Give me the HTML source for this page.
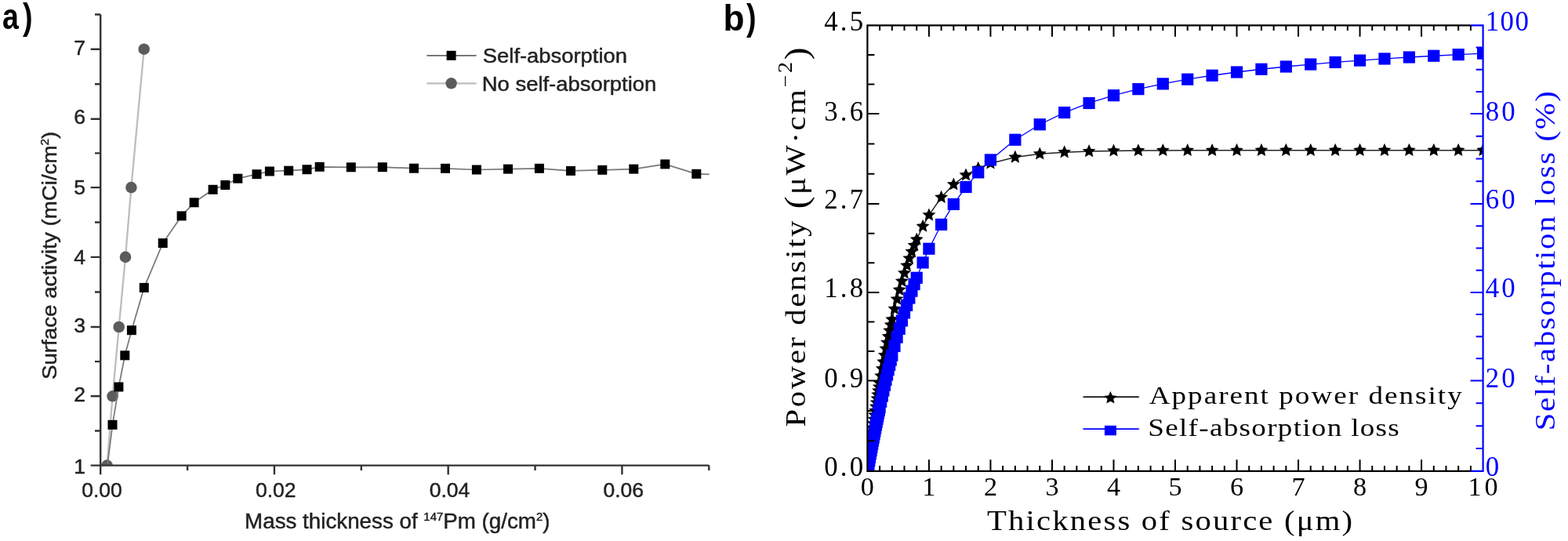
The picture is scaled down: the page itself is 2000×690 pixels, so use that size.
<!DOCTYPE html>
<html><head><meta charset="utf-8"><title>Self-absorption figure</title>
<style>html,body{margin:0;padding:0;background:#fff;width:2000px;height:690px;overflow:hidden}svg{display:block}</style>
</head><body>
<svg width="2000" height="690" viewBox="0 0 2000 690">
<g id="chartA">
<style>.ta{stroke:#222;stroke-width:0.45px}</style>
<clipPath id="clipA"><rect x="128.2" y="0" width="776.39" height="593.6"/></clipPath>
<g clip-path="url(#clipA)">
<polyline points="136.5,593.6 143.6,505.3 151.7,417 160,327.9 167.4,239.1 183.7,62.7" fill="none" stroke="#bdbdbd" stroke-width="2.3"/>
<g fill="#5c5c5c">
<circle cx="136.5" cy="593.6" r="7.3"/>
<circle cx="143.6" cy="505.3" r="7.3"/>
<circle cx="151.7" cy="417" r="7.3"/>
<circle cx="160" cy="327.9" r="7.3"/>
<circle cx="167.4" cy="239.1" r="7.3"/>
<circle cx="183.7" cy="62.7" r="7.3"/>
</g>
<polyline points="137,593.6 143.5,541.8 151.4,493.5 159.3,453.3 167.9,421.2 183.8,366.9 207.7,310.1 231.6,275.4 247.6,258.3 271.6,241.8 287.3,236 303.3,227.7 327.5,222.2 343.9,218.5 368.2,217.7 391.5,216.2 407.7,212.8 447.8,213.3 487.8,213.2 528,214.7 568,214.8 607.9,216.5 648,215.6 687.9,214.8 728,217.9 768.3,216.8 808.3,215.6 848.3,209.4 888.3,221.8 910,222.6" fill="none" stroke="#777" stroke-width="1.7"/>
<g fill="#000">
<rect x="137.5" y="535.8" width="12" height="12"/>
<rect x="145.4" y="487.5" width="12" height="12"/>
<rect x="153.3" y="447.3" width="12" height="12"/>
<rect x="161.9" y="415.2" width="12" height="12"/>
<rect x="177.8" y="360.9" width="12" height="12"/>
<rect x="201.7" y="304.1" width="12" height="12"/>
<rect x="225.6" y="269.4" width="12" height="12"/>
<rect x="241.6" y="252.3" width="12" height="12"/>
<rect x="265.6" y="235.8" width="12" height="12"/>
<rect x="281.3" y="230" width="12" height="12"/>
<rect x="297.3" y="221.7" width="12" height="12"/>
<rect x="321.5" y="216.2" width="12" height="12"/>
<rect x="337.9" y="212.5" width="12" height="12"/>
<rect x="362.2" y="211.7" width="12" height="12"/>
<rect x="385.5" y="210.2" width="12" height="12"/>
<rect x="401.7" y="206.8" width="12" height="12"/>
<rect x="441.8" y="207.3" width="12" height="12"/>
<rect x="481.8" y="207.2" width="12" height="12"/>
<rect x="522" y="208.7" width="12" height="12"/>
<rect x="562" y="208.8" width="12" height="12"/>
<rect x="601.9" y="210.5" width="12" height="12"/>
<rect x="642" y="209.6" width="12" height="12"/>
<rect x="681.9" y="208.8" width="12" height="12"/>
<rect x="722" y="211.9" width="12" height="12"/>
<rect x="762.3" y="210.8" width="12" height="12"/>
<rect x="802.3" y="209.6" width="12" height="12"/>
<rect x="842.3" y="203.4" width="12" height="12"/>
<rect x="882.3" y="215.8" width="12" height="12"/>
</g>
</g>
<path d="M128.2 18.45 V593.6 H904.29" fill="none" stroke="#333" stroke-width="2.4"/>
<path d="M115.7 593.6H128.2 M115.7 505.3H128.2 M115.7 417H128.2 M115.7 327.9H128.2 M115.7 239.1H128.2 M115.7 151.7H128.2 M115.7 62.7H128.2 M121 549.45H128.2 M121 461.15H128.2 M121 372.45H128.2 M121 283.5H128.2 M121 195.4H128.2 M121 107.2H128.2 M121 18.45H128.2 M128.2 593.6V605.2 M239.07 593.6V600 M349.94 593.6V605.2 M460.81 593.6V600 M571.68 593.6V605.2 M682.55 593.6V600 M793.42 593.6V605.2 M904.29 593.6V600" stroke="#333" stroke-width="2.4" fill="none"/>
<text class="ta" x="109" y="603.5" text-anchor="end" font-family="'Liberation Sans', Arial, sans-serif" font-size="26.5" fill="#222">1</text>
<text class="ta" x="109" y="512.1" text-anchor="end" font-family="'Liberation Sans', Arial, sans-serif" font-size="26.5" fill="#222">2</text>
<text class="ta" x="109" y="424.2" text-anchor="end" font-family="'Liberation Sans', Arial, sans-serif" font-size="26.5" fill="#222">3</text>
<text class="ta" x="109" y="336.5" text-anchor="end" font-family="'Liberation Sans', Arial, sans-serif" font-size="26.5" fill="#222">4</text>
<text class="ta" x="109" y="247.5" text-anchor="end" font-family="'Liberation Sans', Arial, sans-serif" font-size="26.5" fill="#222">5</text>
<text class="ta" x="109" y="157.9" text-anchor="end" font-family="'Liberation Sans', Arial, sans-serif" font-size="26.5" fill="#222">6</text>
<text class="ta" x="109" y="70.4" text-anchor="end" font-family="'Liberation Sans', Arial, sans-serif" font-size="26.5" fill="#222">7</text>
<text class="ta" x="130" y="634.2" text-anchor="middle" font-family="'Liberation Sans', Arial, sans-serif" font-size="26.5" fill="#222">0.00</text>
<text class="ta" x="351.74" y="634.2" text-anchor="middle" font-family="'Liberation Sans', Arial, sans-serif" font-size="26.5" fill="#222">0.02</text>
<text class="ta" x="573.48" y="634.2" text-anchor="middle" font-family="'Liberation Sans', Arial, sans-serif" font-size="26.5" fill="#222">0.04</text>
<text class="ta" x="795.22" y="634.2" text-anchor="middle" font-family="'Liberation Sans', Arial, sans-serif" font-size="26.5" fill="#222">0.06</text>
<text class="ta" transform="translate(72 484) rotate(-90)" font-family="'Liberation Sans', Arial, sans-serif" font-size="26.5" fill="#222" textLength="316.2" lengthAdjust="spacingAndGlyphs">Surface activity (mCi/cm<tspan font-size="14.5" dy="-10.5">2</tspan><tspan dy="10.5">)</tspan></text>
<text class="ta" x="312.1" y="673.9" font-family="'Liberation Sans', Arial, sans-serif" font-size="27" fill="#222" textLength="389.4" lengthAdjust="spacingAndGlyphs">Mass thickness of <tspan font-size="14.5" dy="-9.5">147</tspan><tspan dy="9.5">Pm (g/cm</tspan><tspan font-size="14.5" dy="-9.5">2</tspan><tspan dy="9.5">)</tspan></text>
<line x1="544.4" y1="70.8" x2="607.6" y2="70.8" stroke="#666" stroke-width="1.8"/>
<rect x="569.6" y="64.8" width="12" height="12" fill="#000"/>
<text class="ta" x="615.8" y="80.4" font-family="'Liberation Sans', Arial, sans-serif" font-size="25.5" fill="#222" textLength="184.2" lengthAdjust="spacingAndGlyphs">Self-absorption</text>
<line x1="544.4" y1="106.3" x2="607.6" y2="106.3" stroke="#bdbdbd" stroke-width="2.3"/>
<circle cx="575.6" cy="106.3" r="7.2" fill="#5c5c5c"/>
<text class="ta" x="614.8" y="115.6" font-family="'Liberation Sans', Arial, sans-serif" font-size="25.5" fill="#222" textLength="222.5" lengthAdjust="spacingAndGlyphs">No self-absorption</text>
<g font-family="'Liberation Sans', Arial, sans-serif" font-weight="bold" font-size="46" fill="#000"><text transform="translate(2.9 36.8) scale(0.816 1)">a</text><text transform="translate(29.1 36.6) scale(0.82 1)">)</text></g>
</g>
<g id="chartB">
<clipPath id="clipB"><rect x="1106.4" y="32.3" width="785.2" height="568.5"/></clipPath>
<g clip-path="url(#clipB)">
<polyline points="1106.4,600.8 1107.19,594.31 1107.97,587.92 1108.76,581.63 1109.54,575.44 1110.33,569.35 1111.11,563.36 1111.9,557.46 1112.68,551.65 1113.47,545.94 1114.25,540.32 1115.04,534.78 1115.82,529.34 1116.61,523.98 1117.39,518.71 1118.18,513.52 1118.96,508.41 1119.75,503.38 1120.53,498.44 1121.32,493.57 1122.1,488.78 1123.67,479.42 1125.24,470.36 1126.82,461.59 1128.39,453.09 1129.96,444.86 1131.53,436.88 1133.1,429.16 1134.67,421.69 1136.24,414.44 1137.81,407.43 1140.95,394.06 1144.09,381.52 1147.23,369.75 1150.37,358.71 1153.51,348.36 1156.65,338.65 1159.79,329.54 1162.93,321 1166.08,312.99 1169.22,305.47 1177.07,288.65 1184.92,274.32 1200.62,251.7 1216.33,235.28 1232.03,223.36 1247.74,214.7 1263.44,208.41 1294.85,200.52 1326.26,196.37 1357.66,194.18 1389.07,193.02 1420.48,192.41 1451.89,192.09 1483.3,191.92 1514.7,191.83 1546.11,191.79 1577.52,191.76 1608.93,191.75 1640.34,191.74 1671.74,191.74 1703.15,191.73 1734.56,191.73 1765.97,191.73 1797.38,191.73 1828.78,191.73 1860.19,191.73 1891.6,191.73" fill="none" stroke="#222" stroke-width="1.5"/>
<g fill="#000">
<polygon points="1106.4,591.9 1108.86,597.42 1114.86,598.05 1110.38,602.09 1111.63,608 1106.4,604.98 1101.17,608 1102.42,602.09 1097.94,598.05 1103.94,597.42"/>
<polygon points="1107.19,585.41 1109.64,590.92 1115.65,591.56 1111.16,595.6 1112.42,601.51 1107.19,598.49 1101.95,601.51 1103.21,595.6 1098.72,591.56 1104.73,590.92"/>
<polygon points="1107.97,579.02 1110.43,584.53 1116.43,585.17 1111.95,589.21 1113.2,595.12 1107.97,592.1 1102.74,595.12 1103.99,589.21 1099.51,585.17 1105.51,584.53"/>
<polygon points="1108.76,572.73 1111.21,578.24 1117.22,578.88 1112.73,582.92 1113.99,588.83 1108.76,585.81 1103.52,588.83 1104.78,582.92 1100.29,578.88 1106.3,578.24"/>
<polygon points="1109.54,566.54 1112,572.06 1118.01,572.69 1113.52,576.73 1114.77,582.64 1109.54,579.62 1104.31,582.64 1105.56,576.73 1101.08,572.69 1107.08,572.06"/>
<polygon points="1110.33,560.45 1112.78,565.97 1118.79,566.6 1114.3,570.64 1115.56,576.55 1110.33,573.53 1105.09,576.55 1106.35,570.64 1101.86,566.6 1107.87,565.97"/>
<polygon points="1111.11,554.46 1113.57,559.97 1119.58,560.61 1115.09,564.65 1116.34,570.56 1111.11,567.54 1105.88,570.56 1107.13,564.65 1102.65,560.61 1108.65,559.97"/>
<polygon points="1111.9,548.56 1114.36,554.07 1120.36,554.71 1115.87,558.75 1117.13,564.66 1111.9,561.64 1106.67,564.66 1107.92,558.75 1103.43,554.71 1109.44,554.07"/>
<polygon points="1112.68,542.75 1115.14,548.27 1121.15,548.9 1116.66,552.94 1117.91,558.85 1112.68,555.83 1107.45,558.85 1108.7,552.94 1104.22,548.9 1110.22,548.27"/>
<polygon points="1113.47,537.04 1115.93,542.55 1121.93,543.19 1117.45,547.23 1118.7,553.14 1113.47,550.12 1108.24,553.14 1109.49,547.23 1105,543.19 1111.01,542.55"/>
<polygon points="1114.25,531.42 1116.71,536.93 1122.72,537.57 1118.23,541.61 1119.48,547.52 1114.25,544.5 1109.02,547.52 1110.27,541.61 1105.79,537.57 1111.79,536.93"/>
<polygon points="1115.04,525.88 1117.5,531.4 1123.5,532.03 1119.02,536.08 1120.27,541.98 1115.04,538.97 1109.81,541.98 1111.06,536.08 1106.57,532.03 1112.58,531.4"/>
<polygon points="1115.82,520.44 1118.28,525.95 1124.29,526.59 1119.8,530.63 1121.05,536.54 1115.82,533.52 1110.59,536.54 1111.84,530.63 1107.36,526.59 1113.36,525.95"/>
<polygon points="1116.61,515.08 1119.07,520.6 1125.07,521.23 1120.59,525.27 1121.84,531.18 1116.61,528.16 1111.38,531.18 1112.63,525.27 1108.14,521.23 1114.15,520.6"/>
<polygon points="1117.39,509.81 1119.85,515.32 1125.86,515.96 1121.37,520 1122.62,525.91 1117.39,522.89 1112.16,525.91 1113.41,520 1108.93,515.96 1114.93,515.32"/>
<polygon points="1118.18,504.62 1120.64,510.13 1126.64,510.77 1122.16,514.81 1123.41,520.72 1118.18,517.7 1112.95,520.72 1114.2,514.81 1109.71,510.77 1115.72,510.13"/>
<polygon points="1118.96,499.51 1121.42,505.02 1127.43,505.66 1122.94,509.7 1124.19,515.61 1118.96,512.59 1113.73,515.61 1114.98,509.7 1110.5,505.66 1116.5,505.02"/>
<polygon points="1119.75,494.48 1122.21,500 1128.21,500.63 1123.73,504.67 1124.98,510.58 1119.75,507.57 1114.52,510.58 1115.77,504.67 1111.28,500.63 1117.29,500"/>
<polygon points="1120.53,489.54 1122.99,495.05 1129,495.69 1124.51,499.73 1125.76,505.64 1120.53,502.62 1115.3,505.64 1116.56,499.73 1112.07,495.69 1118.07,495.05"/>
<polygon points="1121.32,484.67 1123.78,490.18 1129.78,490.82 1125.3,494.86 1126.55,500.77 1121.32,497.75 1116.09,500.77 1117.34,494.86 1112.85,490.82 1118.86,490.18"/>
<polygon points="1122.1,479.88 1124.56,485.39 1130.57,486.03 1126.08,490.07 1127.34,495.98 1122.1,492.96 1116.87,495.98 1118.13,490.07 1113.64,486.03 1119.65,485.39"/>
<polygon points="1123.67,470.52 1126.13,476.04 1132.14,476.67 1127.65,480.71 1128.91,486.62 1123.67,483.6 1118.44,486.62 1119.7,480.71 1115.21,476.67 1121.22,476.04"/>
<polygon points="1125.24,461.46 1127.7,466.98 1133.71,467.61 1129.22,471.65 1130.48,477.56 1125.24,474.54 1120.01,477.56 1121.27,471.65 1116.78,467.61 1122.79,466.98"/>
<polygon points="1126.82,452.69 1129.27,458.2 1135.28,458.84 1130.79,462.88 1132.05,468.79 1126.82,465.77 1121.58,468.79 1122.84,462.88 1118.35,458.84 1124.36,458.2"/>
<polygon points="1128.39,444.19 1130.84,449.7 1136.85,450.34 1132.36,454.38 1133.62,460.29 1128.39,457.27 1123.15,460.29 1124.41,454.38 1119.92,450.34 1125.93,449.7"/>
<polygon points="1129.96,435.96 1132.41,441.47 1138.42,442.11 1133.93,446.15 1135.19,452.06 1129.96,449.04 1124.72,452.06 1125.98,446.15 1121.49,442.11 1127.5,441.47"/>
<polygon points="1131.53,427.98 1133.99,433.5 1139.99,434.13 1135.5,438.18 1136.76,444.09 1131.53,441.07 1126.3,444.09 1127.55,438.18 1123.06,434.13 1129.07,433.5"/>
<polygon points="1133.1,420.26 1135.56,425.78 1141.56,426.41 1137.08,430.46 1138.33,436.36 1133.1,433.35 1127.87,436.36 1129.12,430.46 1124.63,426.41 1130.64,425.78"/>
<polygon points="1134.67,412.79 1137.13,418.3 1143.13,418.94 1138.65,422.98 1139.9,428.89 1134.67,425.87 1129.44,428.89 1130.69,422.98 1126.2,418.94 1132.21,418.3"/>
<polygon points="1136.24,405.54 1138.7,411.06 1144.7,411.69 1140.22,415.74 1141.47,421.64 1136.24,418.63 1131.01,421.64 1132.26,415.74 1127.77,411.69 1133.78,411.06"/>
<polygon points="1137.81,398.53 1140.27,404.05 1146.27,404.68 1141.79,408.72 1143.04,414.63 1137.81,411.61 1132.58,414.63 1133.83,408.72 1129.34,404.68 1135.35,404.05"/>
<polygon points="1140.95,385.16 1143.41,390.67 1149.41,391.31 1144.93,395.35 1146.18,401.26 1140.95,398.24 1135.72,401.26 1136.97,395.35 1132.48,391.31 1138.49,390.67"/>
<polygon points="1144.09,372.62 1146.55,378.13 1152.55,378.77 1148.07,382.81 1149.32,388.72 1144.09,385.7 1138.86,388.72 1140.11,382.81 1135.63,378.77 1141.63,378.13"/>
<polygon points="1147.23,360.85 1149.69,366.37 1155.69,367 1151.21,371.04 1152.46,376.95 1147.23,373.93 1142,376.95 1143.25,371.04 1138.77,367 1144.77,366.37"/>
<polygon points="1150.37,349.81 1152.83,355.33 1158.84,355.96 1154.35,360.01 1155.6,365.91 1150.37,362.9 1145.14,365.91 1146.39,360.01 1141.91,355.96 1147.91,355.33"/>
<polygon points="1153.51,339.46 1155.97,344.98 1161.98,345.61 1157.49,349.65 1158.74,355.56 1153.51,352.54 1148.28,355.56 1149.53,349.65 1145.05,345.61 1151.05,344.98"/>
<polygon points="1156.65,329.75 1159.11,335.27 1165.12,335.9 1160.63,339.94 1161.88,345.85 1156.65,342.83 1151.42,345.85 1152.67,339.94 1148.19,335.9 1154.19,335.27"/>
<polygon points="1159.79,320.64 1162.25,326.16 1168.26,326.79 1163.77,330.84 1165.02,336.74 1159.79,333.73 1154.56,336.74 1155.82,330.84 1151.33,326.79 1157.33,326.16"/>
<polygon points="1162.93,312.1 1165.39,317.62 1171.4,318.25 1166.91,322.29 1168.17,328.2 1162.93,325.18 1157.7,328.2 1158.96,322.29 1154.47,318.25 1160.48,317.62"/>
<polygon points="1166.08,304.09 1168.53,309.6 1174.54,310.24 1170.05,314.28 1171.31,320.19 1166.08,317.17 1160.84,320.19 1162.1,314.28 1157.61,310.24 1163.62,309.6"/>
<polygon points="1169.22,296.57 1171.67,302.08 1177.68,302.72 1173.19,306.76 1174.45,312.67 1169.22,309.65 1163.98,312.67 1165.24,306.76 1160.75,302.72 1166.76,302.08"/>
<polygon points="1177.07,279.75 1179.53,285.27 1185.53,285.9 1181.05,289.94 1182.3,295.85 1177.07,292.84 1171.84,295.85 1173.09,289.94 1168.6,285.9 1174.61,285.27"/>
<polygon points="1184.92,265.42 1187.38,270.94 1193.38,271.57 1188.9,275.61 1190.15,281.52 1184.92,278.5 1179.69,281.52 1180.94,275.61 1176.46,271.57 1182.46,270.94"/>
<polygon points="1200.62,242.8 1203.08,248.32 1209.09,248.95 1204.6,253 1205.86,258.91 1200.62,255.89 1195.39,258.91 1196.65,253 1192.16,248.95 1198.17,248.32"/>
<polygon points="1216.33,226.38 1218.79,231.9 1224.79,232.53 1220.31,236.57 1221.56,242.48 1216.33,239.46 1211.1,242.48 1212.35,236.57 1207.86,232.53 1213.87,231.9"/>
<polygon points="1232.03,214.46 1234.49,219.97 1240.5,220.61 1236.01,224.65 1237.26,230.56 1232.03,227.54 1226.8,230.56 1228.05,224.65 1223.57,220.61 1229.57,219.97"/>
<polygon points="1247.74,205.8 1250.19,211.31 1256.2,211.95 1251.71,215.99 1252.97,221.9 1247.74,218.88 1242.5,221.9 1243.76,215.99 1239.27,211.95 1245.28,211.31"/>
<polygon points="1263.44,199.51 1265.9,205.02 1271.9,205.66 1267.42,209.7 1268.67,215.61 1263.44,212.59 1258.21,215.61 1259.46,209.7 1254.98,205.66 1260.98,205.02"/>
<polygon points="1294.85,191.62 1297.31,197.14 1303.31,197.77 1298.83,201.82 1300.08,207.73 1294.85,204.71 1289.62,207.73 1290.87,201.82 1286.38,197.77 1292.39,197.14"/>
<polygon points="1326.26,187.47 1328.71,192.98 1334.72,193.62 1330.23,197.66 1331.49,203.57 1326.26,200.55 1321.02,203.57 1322.28,197.66 1317.79,193.62 1323.8,192.98"/>
<polygon points="1357.66,185.28 1360.12,190.79 1366.13,191.43 1361.64,195.47 1362.9,201.38 1357.66,198.36 1352.43,201.38 1353.69,195.47 1349.2,191.43 1355.21,190.79"/>
<polygon points="1389.07,184.12 1391.53,189.64 1397.54,190.27 1393.05,194.31 1394.3,200.22 1389.07,197.2 1383.84,200.22 1385.09,194.31 1380.61,190.27 1386.61,189.64"/>
<polygon points="1420.48,183.51 1422.94,189.03 1428.94,189.66 1424.46,193.7 1425.71,199.61 1420.48,196.6 1415.25,199.61 1416.5,193.7 1412.02,189.66 1418.02,189.03"/>
<polygon points="1451.89,183.19 1454.35,188.71 1460.35,189.34 1455.87,193.38 1457.12,199.29 1451.89,196.27 1446.66,199.29 1447.91,193.38 1443.42,189.34 1449.43,188.71"/>
<polygon points="1483.3,183.02 1485.75,188.54 1491.76,189.17 1487.27,193.21 1488.53,199.12 1483.3,196.1 1478.06,199.12 1479.32,193.21 1474.83,189.17 1480.84,188.54"/>
<polygon points="1514.7,182.93 1517.16,188.45 1523.17,189.08 1518.68,193.12 1519.94,199.03 1514.7,196.02 1509.47,199.03 1510.73,193.12 1506.24,189.08 1512.25,188.45"/>
<polygon points="1546.11,182.89 1548.57,188.4 1554.58,189.03 1550.09,193.08 1551.34,198.99 1546.11,195.97 1540.88,198.99 1542.13,193.08 1537.65,189.03 1543.65,188.4"/>
<polygon points="1577.52,182.86 1579.98,188.38 1585.98,189.01 1581.5,193.05 1582.75,198.96 1577.52,195.94 1572.29,198.96 1573.54,193.05 1569.06,189.01 1575.06,188.38"/>
<polygon points="1608.93,182.85 1611.39,188.36 1617.39,189 1612.91,193.04 1614.16,198.95 1608.93,195.93 1603.7,198.95 1604.95,193.04 1600.46,189 1606.47,188.36"/>
<polygon points="1640.34,182.84 1642.79,188.36 1648.8,188.99 1644.31,193.03 1645.57,198.94 1640.34,195.92 1635.1,198.94 1636.36,193.03 1631.87,188.99 1637.88,188.36"/>
<polygon points="1671.74,182.84 1674.2,188.35 1680.21,188.99 1675.72,193.03 1676.98,198.94 1671.74,195.92 1666.51,198.94 1667.77,193.03 1663.28,188.99 1669.29,188.35"/>
<polygon points="1703.15,182.83 1705.61,188.35 1711.62,188.98 1707.13,193.03 1708.38,198.94 1703.15,195.92 1697.92,198.94 1699.17,193.03 1694.69,188.98 1700.69,188.35"/>
<polygon points="1734.56,182.83 1737.02,188.35 1743.02,188.98 1738.54,193.03 1739.79,198.93 1734.56,195.92 1729.33,198.93 1730.58,193.03 1726.1,188.98 1732.1,188.35"/>
<polygon points="1765.97,182.83 1768.43,188.35 1774.43,188.98 1769.95,193.03 1771.2,198.93 1765.97,195.92 1760.74,198.93 1761.99,193.03 1757.5,188.98 1763.51,188.35"/>
<polygon points="1797.38,182.83 1799.83,188.35 1805.84,188.98 1801.35,193.03 1802.61,198.93 1797.38,195.92 1792.14,198.93 1793.4,193.03 1788.91,188.98 1794.92,188.35"/>
<polygon points="1828.78,182.83 1831.24,188.35 1837.25,188.98 1832.76,193.03 1834.02,198.93 1828.78,195.92 1823.55,198.93 1824.81,193.03 1820.32,188.98 1826.33,188.35"/>
<polygon points="1860.19,182.83 1862.65,188.35 1868.66,188.98 1864.17,193.03 1865.42,198.93 1860.19,195.92 1854.96,198.93 1856.21,193.03 1851.73,188.98 1857.73,188.35"/>
<polygon points="1891.6,182.83 1894.06,188.35 1900.06,188.98 1895.58,193.03 1896.83,198.93 1891.6,195.92 1886.37,198.93 1887.62,193.03 1883.14,188.98 1889.14,188.35"/>
</g>
<polyline points="1106.4,600.8 1107.19,596.31 1107.97,591.87 1108.76,587.48 1109.54,583.13 1110.33,578.83 1111.11,574.57 1111.9,570.36 1112.68,566.19 1113.47,562.07 1114.25,557.98 1115.04,553.94 1115.82,549.95 1116.61,545.99 1117.39,542.07 1118.18,538.2 1118.96,534.36 1119.75,530.57 1120.53,526.81 1121.32,523.09 1122.1,519.41 1123.67,512.17 1125.24,505.07 1126.82,498.11 1128.39,491.29 1129.96,484.61 1131.53,478.07 1133.1,471.66 1134.67,465.37 1136.24,459.21 1137.81,453.17 1140.95,441.46 1144.09,430.19 1147.23,419.37 1150.37,408.96 1153.51,398.95 1156.65,389.32 1159.79,380.05 1162.93,371.13 1166.08,362.55 1169.22,354.28 1177.07,334.91 1184.92,317.25 1200.62,286.37 1216.33,260.43 1232.03,238.52 1247.74,219.88 1263.44,203.92 1294.85,178.25 1326.26,158.73 1357.66,143.55 1389.07,131.48 1420.48,121.7 1451.89,113.64 1483.3,106.89 1514.7,101.17 1546.11,96.26 1577.52,92 1608.93,88.27 1640.34,84.98 1671.74,82.05 1703.15,79.43 1734.56,77.08 1765.97,74.95 1797.38,73.01 1828.78,71.24 1860.19,69.61 1891.6,68.12" fill="none" stroke="#0000ff" stroke-width="1.3"/>
<g fill="#0000ff">
<rect x="1098.8" y="593.2" width="15.2" height="15.2"/>
<rect x="1099.59" y="588.71" width="15.2" height="15.2"/>
<rect x="1100.37" y="584.27" width="15.2" height="15.2"/>
<rect x="1101.16" y="579.88" width="15.2" height="15.2"/>
<rect x="1101.94" y="575.53" width="15.2" height="15.2"/>
<rect x="1102.73" y="571.23" width="15.2" height="15.2"/>
<rect x="1103.51" y="566.97" width="15.2" height="15.2"/>
<rect x="1104.3" y="562.76" width="15.2" height="15.2"/>
<rect x="1105.08" y="558.59" width="15.2" height="15.2"/>
<rect x="1105.87" y="554.47" width="15.2" height="15.2"/>
<rect x="1106.65" y="550.38" width="15.2" height="15.2"/>
<rect x="1107.44" y="546.34" width="15.2" height="15.2"/>
<rect x="1108.22" y="542.35" width="15.2" height="15.2"/>
<rect x="1109.01" y="538.39" width="15.2" height="15.2"/>
<rect x="1109.79" y="534.47" width="15.2" height="15.2"/>
<rect x="1110.58" y="530.6" width="15.2" height="15.2"/>
<rect x="1111.36" y="526.76" width="15.2" height="15.2"/>
<rect x="1112.15" y="522.97" width="15.2" height="15.2"/>
<rect x="1112.93" y="519.21" width="15.2" height="15.2"/>
<rect x="1113.72" y="515.49" width="15.2" height="15.2"/>
<rect x="1114.5" y="511.81" width="15.2" height="15.2"/>
<rect x="1116.07" y="504.57" width="15.2" height="15.2"/>
<rect x="1117.64" y="497.47" width="15.2" height="15.2"/>
<rect x="1119.22" y="490.51" width="15.2" height="15.2"/>
<rect x="1120.79" y="483.69" width="15.2" height="15.2"/>
<rect x="1122.36" y="477.01" width="15.2" height="15.2"/>
<rect x="1123.93" y="470.47" width="15.2" height="15.2"/>
<rect x="1125.5" y="464.06" width="15.2" height="15.2"/>
<rect x="1127.07" y="457.77" width="15.2" height="15.2"/>
<rect x="1128.64" y="451.61" width="15.2" height="15.2"/>
<rect x="1130.21" y="445.57" width="15.2" height="15.2"/>
<rect x="1133.35" y="433.86" width="15.2" height="15.2"/>
<rect x="1136.49" y="422.59" width="15.2" height="15.2"/>
<rect x="1139.63" y="411.77" width="15.2" height="15.2"/>
<rect x="1142.77" y="401.36" width="15.2" height="15.2"/>
<rect x="1145.91" y="391.35" width="15.2" height="15.2"/>
<rect x="1149.05" y="381.72" width="15.2" height="15.2"/>
<rect x="1152.19" y="372.45" width="15.2" height="15.2"/>
<rect x="1155.33" y="363.53" width="15.2" height="15.2"/>
<rect x="1158.48" y="354.95" width="15.2" height="15.2"/>
<rect x="1161.62" y="346.68" width="15.2" height="15.2"/>
<rect x="1169.47" y="327.31" width="15.2" height="15.2"/>
<rect x="1177.32" y="309.65" width="15.2" height="15.2"/>
<rect x="1193.02" y="278.77" width="15.2" height="15.2"/>
<rect x="1208.73" y="252.83" width="15.2" height="15.2"/>
<rect x="1224.43" y="230.92" width="15.2" height="15.2"/>
<rect x="1240.14" y="212.28" width="15.2" height="15.2"/>
<rect x="1255.84" y="196.32" width="15.2" height="15.2"/>
<rect x="1287.25" y="170.65" width="15.2" height="15.2"/>
<rect x="1318.66" y="151.13" width="15.2" height="15.2"/>
<rect x="1350.06" y="135.95" width="15.2" height="15.2"/>
<rect x="1381.47" y="123.88" width="15.2" height="15.2"/>
<rect x="1412.88" y="114.1" width="15.2" height="15.2"/>
<rect x="1444.29" y="106.04" width="15.2" height="15.2"/>
<rect x="1475.7" y="99.29" width="15.2" height="15.2"/>
<rect x="1507.1" y="93.57" width="15.2" height="15.2"/>
<rect x="1538.51" y="88.66" width="15.2" height="15.2"/>
<rect x="1569.92" y="84.4" width="15.2" height="15.2"/>
<rect x="1601.33" y="80.67" width="15.2" height="15.2"/>
<rect x="1632.74" y="77.38" width="15.2" height="15.2"/>
<rect x="1664.14" y="74.45" width="15.2" height="15.2"/>
<rect x="1695.55" y="71.83" width="15.2" height="15.2"/>
<rect x="1726.96" y="69.48" width="15.2" height="15.2"/>
<rect x="1758.37" y="67.35" width="15.2" height="15.2"/>
<rect x="1789.78" y="65.41" width="15.2" height="15.2"/>
<rect x="1821.18" y="63.64" width="15.2" height="15.2"/>
<rect x="1852.59" y="62.01" width="15.2" height="15.2"/>
<rect x="1884" y="60.52" width="15.2" height="15.2"/>
</g>
</g>
<path d="M1875.11 32.3 H1106.4 V600.8 H1875.11" fill="none" stroke="#000" stroke-width="2.2"/>
<path d="M1875.11 32.3 H1891.6 V600.8 H1875.11" fill="none" stroke="#0000ff" stroke-width="2.2"/>
<path d="M1122.1 600.8V594 M1122.1 32.3V39.1 M1137.81 600.8V594 M1137.81 32.3V39.1 M1153.51 600.8V594 M1153.51 32.3V39.1 M1169.22 600.8V594 M1169.22 32.3V39.1 M1184.92 600.8V586.3 M1184.92 32.3V46.8 M1200.62 600.8V594 M1200.62 32.3V39.1 M1216.33 600.8V594 M1216.33 32.3V39.1 M1232.03 600.8V594 M1232.03 32.3V39.1 M1247.74 600.8V594 M1247.74 32.3V39.1 M1263.44 600.8V586.3 M1263.44 32.3V46.8 M1279.14 600.8V594 M1279.14 32.3V39.1 M1294.85 600.8V594 M1294.85 32.3V39.1 M1310.55 600.8V594 M1310.55 32.3V39.1 M1326.26 600.8V594 M1326.26 32.3V39.1 M1341.96 600.8V586.3 M1341.96 32.3V46.8 M1357.66 600.8V594 M1357.66 32.3V39.1 M1373.37 600.8V594 M1373.37 32.3V39.1 M1389.07 600.8V594 M1389.07 32.3V39.1 M1404.78 600.8V594 M1404.78 32.3V39.1 M1420.48 600.8V586.3 M1420.48 32.3V46.8 M1436.18 600.8V594 M1436.18 32.3V39.1 M1451.89 600.8V594 M1451.89 32.3V39.1 M1467.59 600.8V594 M1467.59 32.3V39.1 M1483.3 600.8V594 M1483.3 32.3V39.1 M1499 600.8V586.3 M1499 32.3V46.8 M1514.7 600.8V594 M1514.7 32.3V39.1 M1530.41 600.8V594 M1530.41 32.3V39.1 M1546.11 600.8V594 M1546.11 32.3V39.1 M1561.82 600.8V594 M1561.82 32.3V39.1 M1577.52 600.8V586.3 M1577.52 32.3V46.8 M1593.22 600.8V594 M1593.22 32.3V39.1 M1608.93 600.8V594 M1608.93 32.3V39.1 M1624.63 600.8V594 M1624.63 32.3V39.1 M1640.34 600.8V594 M1640.34 32.3V39.1 M1656.04 600.8V586.3 M1656.04 32.3V46.8 M1671.74 600.8V594 M1671.74 32.3V39.1 M1687.45 600.8V594 M1687.45 32.3V39.1 M1703.15 600.8V594 M1703.15 32.3V39.1 M1718.86 600.8V594 M1718.86 32.3V39.1 M1734.56 600.8V586.3 M1734.56 32.3V46.8 M1750.26 600.8V594 M1750.26 32.3V39.1 M1765.97 600.8V594 M1765.97 32.3V39.1 M1781.67 600.8V594 M1781.67 32.3V39.1 M1797.38 600.8V594 M1797.38 32.3V39.1 M1813.08 600.8V586.3 M1813.08 32.3V46.8 M1828.78 600.8V594 M1828.78 32.3V39.1 M1844.49 600.8V594 M1844.49 32.3V39.1 M1860.19 600.8V594 M1860.19 32.3V39.1 M1875.9 600.8V594 M1875.9 32.3V39.1 M1106.4 562.37H1115.4 M1106.4 523.93H1115.4 M1106.4 485.5H1121.4 M1106.4 447.97H1115.4 M1106.4 410.43H1115.4 M1106.4 372.9H1121.4 M1106.4 335.27H1115.4 M1106.4 297.63H1115.4 M1106.4 260H1121.4 M1106.4 221.7H1115.4 M1106.4 183.4H1115.4 M1106.4 145.1H1121.4 M1106.4 107.53H1115.4 M1106.4 69.97H1115.4" stroke="#000" stroke-width="2" fill="none"/>
<path d="M1891.6 571.97H1882.6 M1891.6 543.15H1882.6 M1891.6 514.33H1882.6 M1891.6 485.5H1875.6 M1891.6 457.35H1882.6 M1891.6 429.2H1882.6 M1891.6 401.05H1882.6 M1891.6 372.9H1875.6 M1891.6 344.67H1882.6 M1891.6 316.45H1882.6 M1891.6 288.23H1882.6 M1891.6 260H1875.6 M1891.6 231.28H1882.6 M1891.6 202.55H1882.6 M1891.6 173.82H1882.6 M1891.6 145.1H1875.6 M1891.6 116.92H1882.6 M1891.6 88.75H1882.6 M1891.6 60.58H1882.6" stroke="#0000ff" stroke-width="2" fill="none"/>
<text x="1101.2" y="607.1" text-anchor="end" font-family="'Liberation Serif', 'Times New Roman', serif" font-size="34.8" fill="#000" textLength="50" lengthAdjust="spacing">0.0</text>
<text x="1101.2" y="493.8" text-anchor="end" font-family="'Liberation Serif', 'Times New Roman', serif" font-size="34.8" fill="#000" textLength="50" lengthAdjust="spacing">0.9</text>
<text x="1101.2" y="379.2" text-anchor="end" font-family="'Liberation Serif', 'Times New Roman', serif" font-size="34.8" fill="#000" textLength="50" lengthAdjust="spacing">1.8</text>
<text x="1101.2" y="266.1" text-anchor="end" font-family="'Liberation Serif', 'Times New Roman', serif" font-size="34.8" fill="#000" textLength="50" lengthAdjust="spacing">2.7</text>
<text x="1101.2" y="153.5" text-anchor="end" font-family="'Liberation Serif', 'Times New Roman', serif" font-size="34.8" fill="#000" textLength="50" lengthAdjust="spacing">3.6</text>
<text x="1101.2" y="38.7" text-anchor="end" font-family="'Liberation Serif', 'Times New Roman', serif" font-size="34.8" fill="#000" textLength="50" lengthAdjust="spacing">4.5</text>
<text x="1106.4" y="631.7" text-anchor="middle" font-family="'Liberation Serif', 'Times New Roman', serif" font-size="34.2" fill="#000">0</text>
<text x="1184.92" y="631.7" text-anchor="middle" font-family="'Liberation Serif', 'Times New Roman', serif" font-size="34.2" fill="#000">1</text>
<text x="1263.44" y="631.7" text-anchor="middle" font-family="'Liberation Serif', 'Times New Roman', serif" font-size="34.2" fill="#000">2</text>
<text x="1341.96" y="631.7" text-anchor="middle" font-family="'Liberation Serif', 'Times New Roman', serif" font-size="34.2" fill="#000">3</text>
<text x="1420.48" y="631.7" text-anchor="middle" font-family="'Liberation Serif', 'Times New Roman', serif" font-size="34.2" fill="#000">4</text>
<text x="1499" y="631.7" text-anchor="middle" font-family="'Liberation Serif', 'Times New Roman', serif" font-size="34.2" fill="#000">5</text>
<text x="1577.52" y="631.7" text-anchor="middle" font-family="'Liberation Serif', 'Times New Roman', serif" font-size="34.2" fill="#000">6</text>
<text x="1656.04" y="631.7" text-anchor="middle" font-family="'Liberation Serif', 'Times New Roman', serif" font-size="34.2" fill="#000">7</text>
<text x="1734.56" y="631.7" text-anchor="middle" font-family="'Liberation Serif', 'Times New Roman', serif" font-size="34.2" fill="#000">8</text>
<text x="1813.08" y="631.7" text-anchor="middle" font-family="'Liberation Serif', 'Times New Roman', serif" font-size="34.2" fill="#000">9</text>
<text x="1891.6" y="631.7" text-anchor="middle" font-family="'Liberation Serif', 'Times New Roman', serif" font-size="34.2" fill="#000" textLength="38" lengthAdjust="spacing">10</text>
<text x="1894.8" y="607.1" font-family="'Liberation Serif', 'Times New Roman', serif" font-size="34.8" fill="#0000ff">0</text>
<text x="1894.8" y="493.8" font-family="'Liberation Serif', 'Times New Roman', serif" font-size="34.8" fill="#0000ff" textLength="37.8" lengthAdjust="spacing">20</text>
<text x="1894.8" y="379.2" font-family="'Liberation Serif', 'Times New Roman', serif" font-size="34.8" fill="#0000ff" textLength="37.8" lengthAdjust="spacing">40</text>
<text x="1894.8" y="266.1" font-family="'Liberation Serif', 'Times New Roman', serif" font-size="34.8" fill="#0000ff" textLength="37.8" lengthAdjust="spacing">60</text>
<text x="1894.8" y="153.5" font-family="'Liberation Serif', 'Times New Roman', serif" font-size="34.8" fill="#0000ff" textLength="37.8" lengthAdjust="spacing">80</text>
<text x="1894.8" y="38.7" font-family="'Liberation Serif', 'Times New Roman', serif" font-size="34.8" fill="#0000ff" textLength="55" lengthAdjust="spacing">100</text>
<text transform="translate(1259 676) scale(1.13 1)" font-family="'Liberation Serif', 'Times New Roman', serif" font-size="36" fill="#000" textLength="412.39" lengthAdjust="spacing">Thickness of source (μm)</text>
<text transform="translate(1027 544.5) rotate(-90) scale(1.13 1)" font-family="'Liberation Serif', 'Times New Roman', serif" font-size="36" fill="#000" textLength="428.32" lengthAdjust="spacing">Power density <tspan font-size="42" dy="2.5">(</tspan><tspan dy="-2.5">μW·cm</tspan><tspan font-size="25" dy="-17">−2</tspan><tspan font-size="42" dy="19.5">)</tspan></text>
<text transform="translate(1983 549.3) rotate(-90) scale(1.13 1)" font-family="'Liberation Serif', 'Times New Roman', serif" font-size="36" fill="#0000ff" textLength="383.19" lengthAdjust="spacing">Self-absorption loss (%)</text>
<line x1="1381.5" y1="506.3" x2="1452.8" y2="506.3" stroke="#222" stroke-width="1.9"/>
<polygon fill="#000" points="1416.4,499 1418.78,504.33 1424.58,504.94 1420.24,508.85 1421.45,514.56 1416.4,511.64 1411.35,514.56 1412.56,508.85 1408.22,504.94 1414.02,504.33"/>
<text transform="translate(1465.7 515.3) scale(1.16 1)" font-family="'Liberation Serif', 'Times New Roman', serif" font-size="32" fill="#000" textLength="343.97" lengthAdjust="spacing">Apparent power density</text>
<line x1="1381.5" y1="547.2" x2="1452.8" y2="547.2" stroke="#0000ff" stroke-width="1.8"/>
<rect x="1408.9" y="542.8" width="15" height="12.5" fill="#0000ff"/>
<text transform="translate(1464.3 556.2) scale(1.16 1)" font-family="'Liberation Serif', 'Times New Roman', serif" font-size="32" fill="#000" textLength="276.29" lengthAdjust="spacing">Self-absorption loss</text>
<g font-family="'Liberation Sans', Arial, sans-serif" font-weight="bold" font-size="46" fill="#000"><text transform="translate(922.5 38.9) scale(0.96 1)">b</text><text transform="translate(952 38.3) scale(0.82 1)">)</text></g>
</g>
</svg>
</body></html>
